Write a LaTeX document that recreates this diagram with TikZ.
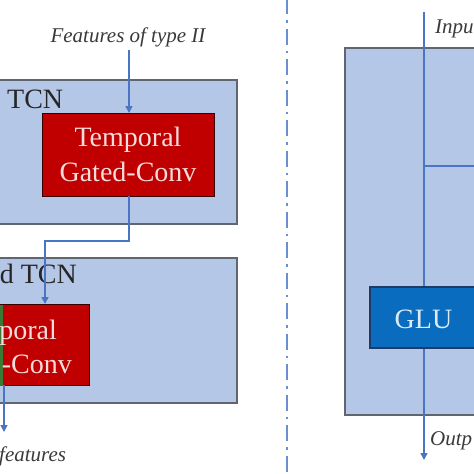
\documentclass[tikz,border=0pt]{standalone}
\usepackage{fontspec}
\setmainfont{Liberation Serif}
\usetikzlibrary{arrows.meta}
\definecolor{boxblue}{HTML}{B4C7E7}
\definecolor{boxedge}{HTML}{5F6670}
\definecolor{convred}{HTML}{C00000}
\definecolor{convtext}{HTML}{F6DCDC}
\definecolor{arrblue}{HTML}{4A74C4}
\definecolor{glublue}{HTML}{0A6CBE}
\definecolor{gluedge}{HTML}{1E3A66}
\definecolor{glutext}{HTML}{DCEBF8}
\definecolor{sepblue}{HTML}{6A8ED0}
\definecolor{stripgreen}{HTML}{3B7A35}
\definecolor{labgray}{HTML}{3A3A3A}
\tikzset{
  panel/.style={draw=boxedge, line width=1.6pt, fill=boxblue, inner sep=0pt, outer sep=0pt, anchor=north west},
  convbox/.style={draw=black!70!convred, line width=1pt, fill=convred, inner sep=0pt, outer sep=0pt, text=convtext,
    font=\fontsize{28}{35}\selectfont, align=center},
  glubox/.style={draw=gluedge, line width=1.4pt, fill=glublue, inner sep=0pt, outer sep=0pt, anchor=north west},
  arr/.style={draw=arrblue, line width=1.5pt, -{Triangle[width=7pt,length=7pt]}},
  plainline/.style={draw=arrblue, line width=1.5pt},
  titletext/.style={font=\fontsize{28}{34}\selectfont, text=black!85, inner sep=0pt},
  redtext/.style={font=\fontsize{28}{34}\selectfont, text=convtext, inner sep=0pt},
  gluetext/.style={font=\fontsize{28}{34}\selectfont, text=glutext, inner sep=0pt},
  ittext/.style={font=\fontsize{21}{25}\selectfont\itshape, text=labgray, inner sep=0pt},
  sepline/.style={draw=sepblue, line width=2.6pt, dash pattern=on 16pt off 6pt on 2.5pt off 6pt}
}
\begin{document}
\begin{tikzpicture}[x=1pt,y=-1pt]
\useasboundingbox (0,0) rectangle (474,474);
\clip (0,0) rectangle (474,474);
\fill[white] (0,0) rectangle (474,474);

% ---- left column ----
\node[ittext, anchor=base] (ftitle) at (128,42) {Features of type II};
\node[panel, minimum width=257pt, minimum height=144pt] (tcn1) at (-20,80) {};
\node[titletext, anchor=base west] (tcn1lab) at (7,108) {TCN};
\node[convbox, minimum width=172pt, minimum height=83pt] (red1) at (128,154.5) {Temporal\\Gated-Conv};

\node[panel, minimum width=257pt, minimum height=145pt] (tcn2) at (-20,258) {};
\node[titletext, anchor=base east] (tcn2lab) at (77,283) {d TCN};
\node[convbox, minimum width=173pt, minimum height=81pt, anchor=north] (red2) at (2.5,304) {};
\fill[stripgreen] (-6,304.5) rectangle (3,385.5);
\node[redtext, anchor=base east] (red2a) at (57,339) {poral};
\node[redtext, anchor=base east] (red2b) at (72,373) {-Conv};

\coordinate (fin) at (129,50);
\draw[arr] (fin) -- (fin |- red1.north);
\coordinate (bend) at (45,241);
\draw[arr] (fin |- red1.south) |- (bend) -- (bend |- red2.north);
\coordinate (fout) at (4,432);
\draw[arr] (fout |- red2.south) -- (fout);
\node[ittext, anchor=base west] (flab) at (-1,461) {features};

% ---- separator ----
\coordinate (septop) at (287,-2);
\coordinate (sepbot) at (287,476);
\draw[sepline] (septop) -- (sepbot);

% ---- right column ----
\node[panel, minimum width=150pt, minimum height=367pt] (big) at (345,48) {};
\coordinate (inp) at (424,12);
\coordinate (outp) at (424,460);
\coordinate (branch) at (424,166);
\coordinate (branchend) at (480,166);
\draw[arr] (inp) -- (outp);
\draw[plainline] (branch) -- (branchend);
\node[glubox, minimum width=120pt, minimum height=61pt] (glu) at (370,287) {};
\node[gluetext] (glulab) at (423.5,319) {GLU};
\node[ittext, anchor=base west] (inlab) at (435,33) {Inpu};
\node[ittext, anchor=base west] (outlab) at (430,445) {Outp};
\end{tikzpicture}
\end{document}
